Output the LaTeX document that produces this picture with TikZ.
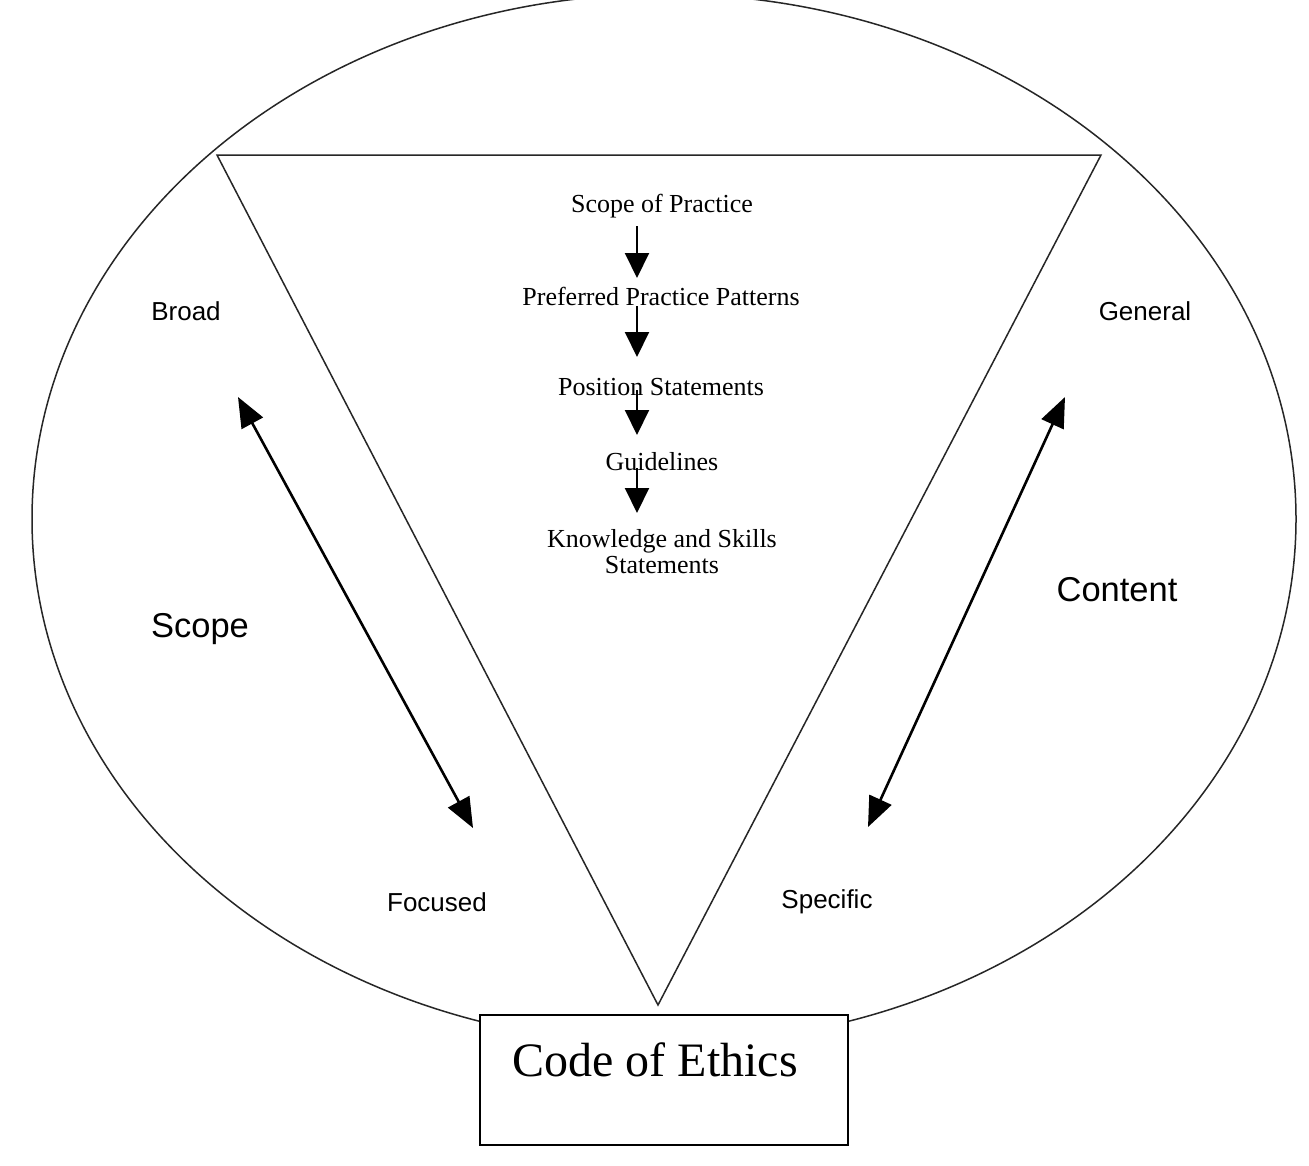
\documentclass[tikz,border=0pt]{standalone}
\usepackage{fontspec}
\setmainfont{Liberation Serif}
\newfontfamily\lsans{Liberation Sans}
\usetikzlibrary{arrows.meta}
\begin{document}
\begin{tikzpicture}[x=1pt,y=-1pt,
  serif/.style={font=\fontsize{26}{29}\selectfont, inner sep=0pt, align=center},
  sanslab/.style={font=\lsans\fontsize{26}{29}\selectfont, inner sep=0pt},
  biglab/.style={font=\lsans\fontsize{34.5}{38}\selectfont, inner sep=0pt},
  flowarrow/.style={line width=2pt, -{Triangle[length=25pt,width=24pt]}},
  rangearrow/.style={line width=2.6pt, {Triangle[length=30pt,width=24pt]}-{Triangle[length=30pt,width=24pt]}},
  outline/.style={line width=1.5pt, draw=black!85}
]
\useasboundingbox (0,0) rectangle (1309,1165);
\clip (0,0) rectangle (1309,1165);
\fill[white] (0,0) rectangle (1309,1165);

% outer ellipse
\draw[outline] (664,519) ellipse [x radius=632, y radius=525];

% inverted triangle
\draw[outline, line join=miter] (217,155) -- (1101,155) -- (658,1005) -- cycle;

% box
\node[draw=black, line width=2pt, fill=white, minimum width=368pt, minimum height=130pt, inner sep=0pt] (ethicsbox) at (664,1080) {};
\node[font=\fontsize{48}{52}\selectfont, inner sep=0pt] (ethics) at (655,1060) {Code of Ethics};

% center flow texts
\node[serif] (sop) at (662,206) {Scope of Practice};
\node[serif] (ppp) at (661,296) {Preferred Practice Patterns};
\node[serif] (ps) at (661,387) {Position Statements};
\node[serif] (gl) at (662,462) {Guidelines};
\node[serif] (kss) at (662,552) {Knowledge and Skills\\[-3pt]Statements};

\coordinate (a1s) at (637,226);
\coordinate (a1e) at (637,278);
\coordinate (a2s) at (637,306);
\coordinate (a2e) at (637,357);
\coordinate (a3s) at (637,390);
\coordinate (a3e) at (637,435);
\coordinate (a4s) at (637,468);
\coordinate (a4e) at (637,513);
\draw[flowarrow] (a1s) -- (a1e);
\draw[flowarrow] (a2s) -- (a2e);
\draw[flowarrow] (a3s) -- (a3e);
\draw[flowarrow] (a4s) -- (a4e);

% side labels
\node[sanslab] (broad) at (186,311) {Broad};
\node[sanslab] (general) at (1145,311) {General};
\node[sanslab] (focused) at (437,902) {Focused};
\node[sanslab] (specific) at (827,902) {Specific};
\node[biglab] (scope) at (200,629) {Scope};
\node[biglab] (content) at (1117,590) {Content};

% diagonal double arrows
\coordinate (l1) at (238,397);
\coordinate (l2) at (473,828);
\coordinate (r1) at (1065,397);
\coordinate (r2) at (868,827);
\draw[rangearrow] (l1) -- (l2);
\draw[rangearrow] (r1) -- (r2);
\end{tikzpicture}
\end{document}
